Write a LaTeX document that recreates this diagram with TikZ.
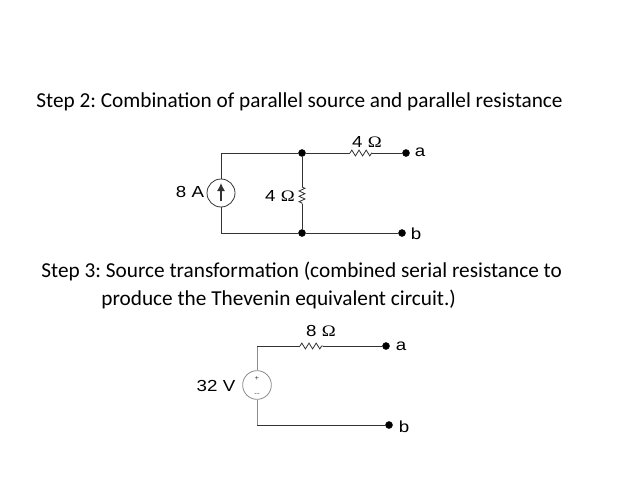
\documentclass[tikz,border=0pt]{standalone}
\usepackage{fontspec}
\setmainfont{Carlito}
\newfontfamily\labelfont[FakeStretch=1.17]{Liberation Sans}
\newfontfamily\ohmfont[FakeStretch=1.17]{Liberation Serif}
\usetikzlibrary{decorations.pathmorphing,arrows.meta}
\definecolor{wire}{gray}{0.2}
\definecolor{lwire}{gray}{0.55}
\begin{document}
\begin{tikzpicture}[x=0.75pt,y=-0.75pt,line width=0.6pt]
    \tikzset{%
      dot/.style={circle, draw, fill=black, inner sep=0pt, minimum
        width=5pt},
      src/.style={circle, draw=wire, fill=white, inner sep=0pt, minimum
        width=21pt},
      lsrc/.style={circle, draw=lwire, fill=white, inner sep=0pt, minimum
        width=21.5pt},
      res/.style={wire, decorate, decoration={zigzag, amplitude=2.2pt,
        segment length=5.4pt}},
      vres/.style={res, decoration={zigzag, amplitude=2.2pt,
        segment length=4pt}},
      line/.style={anchor=base west, inner sep=0pt, font=\frenchspacing\fontsize{15.95}{19}\selectfont},
      lab/.style={inner sep=0pt, font=\labelfont\fontsize{12}{14}\selectfont},
      sign/.style={inner sep=0pt, font=\labelfont\fontsize{5}{5}\selectfont, wire},
    }
    \useasboundingbox (0,0) rectangle (638,478);

    \node[line] (T2) at (36,107.6) {Step 2: Combination of parallel source and parallel resistance};
    \node[line] (T3) at (41,277.6) {Step 3: Source transformation (combined serial resistance to};
    \node[line] (T4) at (101,305.6) {produce the Thevenin equivalent circuit.)};

    % step 2
    \coordinate (A1) at (221,153);
    \coordinate (A2) at (221,233);
    \node[dot] (A3) at (302,153) {};
    \node[dot] (A4) at (302,233) {};
    \node[dot] (Aa) at (406,153) {};
    \node[dot] (Ab) at (402,233) {};
    \coordinate (R1a) at (350,153);
    \coordinate (R1b) at (372,153);
    \coordinate (R2a) at (302,187);
    \coordinate (R2b) at (302,204);
    \node[src] (I) at (221,193) {};
    \coordinate (I1) at (221,201);
    \coordinate (I2) at (221,183);
    \draw [wire] (I) -- (A1) -- (A3) -- (R1a);
    \draw [wire] (R1b) -- (Aa);
    \draw [res] (R1a) -- (R1b);
    \draw [wire] (I) -- (A2) -- (A4) -- (Ab);
    \draw [wire] (A3) -- (R2a);
    \draw [vres] (R2a) -- (R2b);
    \draw [wire] (R2b) -- (A4);
    \draw [wire, -{Latex[length=6pt,width=6pt]}, line width=0.9pt] (I1) -- (I2);
    \node[lab] (L1) at (367,142) {4 {\ohmfont Ω}};
    \node[lab] (L2) at (420,152) {a};
    \node[lab] (L3) at (416,234) {b};
    \node[lab] (L4) at (190,192) {8 A};
    \node[lab] (L5) at (280,196) {4 {\ohmfont Ω}};

    % step 3
    \coordinate (B1) at (257,346);
    \coordinate (B2) at (257,425);
    \coordinate (R3a) at (300,346);
    \coordinate (R3b) at (323,346);
    \node[dot] (Ba) at (386,346) {};
    \node[dot] (Bb) at (389,425) {};
    \node[lsrc] (V) at (257,385) {};
    \draw [lwire] (V) -- (B1);
    \draw [wire] (B1) -- (R3a);
    \draw [res] (R3a) -- (R3b);
    \draw [wire] (R3b) -- (Ba);
    \draw [lwire] (V) -- (B2);
    \draw [wire] (B2) -- (Bb);
    \node[sign] (Vp) at (257,379) {+};
    \node[sign] (Vm) at (257,394) {--};
    \node[lab] (L6) at (321,331) {8 {\ohmfont Ω}};
    \node[lab] (L7) at (401,346) {a};
    \node[lab] (L8) at (404,427) {b};
    \node[lab] (L9) at (216,386) {32 V};
\end{tikzpicture}
\end{document}
